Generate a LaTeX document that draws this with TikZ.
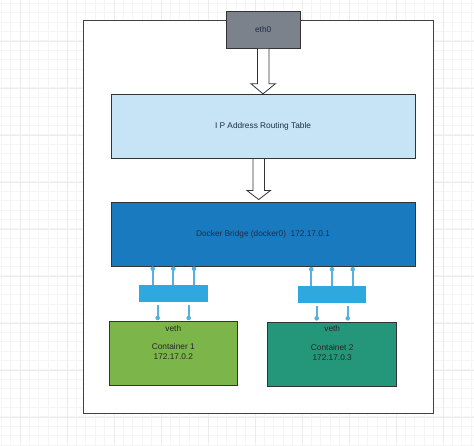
\documentclass[tikz,border=0pt]{standalone}
\usepackage{fontspec}
\setmainfont{Liberation Sans}
\usetikzlibrary{calc}
\definecolor{ethgray}{HTML}{7B828C}
\definecolor{rtblue}{HTML}{C6E4F6}
\definecolor{brblue}{HTML}{1A7ABF}
\definecolor{vethblue}{HTML}{2EA8DF}
\definecolor{linkblue}{HTML}{55B2E0}
\definecolor{c1green}{HTML}{7CB54A}
\definecolor{c2teal}{HTML}{249679}
\definecolor{txtnavy}{HTML}{1E2E44}
\definecolor{gridc}{HTML}{F5F5F5}
\definecolor{gridm}{HTML}{ECECEC}
\tikzset{
  boxstyle/.style={draw=black!80, line width=0.9pt, inner sep=0pt, font=\fontsize{8.3}{10}\selectfont},
  lbl/.style={font=\fontsize{8.3}{10}\selectfont, text=black!85},
  vethbar/.style={fill=vethblue, draw=none, inner sep=0pt},
  blockarrow/.style={draw=black!80, fill=white, line width=0.8pt, line join=miter},
  linkline/.style={draw=linkblue, line width=2pt},
  linkdot/.style={fill=linkblue, draw=none}
}
\begin{document}
\begin{tikzpicture}[x=1pt,y=-1pt]
\useasboundingbox (0,0) rectangle (474,445);
% background grid
\foreach \i in {0,...,50} {
  \draw[gridc, line width=0.4pt] ({1+\i*9.4},0) -- ({1+\i*9.4},445);
  \draw[gridc, line width=0.4pt] (0,{3+\i*9.4}) -- (474,{3+\i*9.4});
}
\foreach \i in {0,...,10} {
  \draw[gridm, line width=0.5pt] ({20+\i*47},0) -- ({20+\i*47},445);
  \draw[gridm, line width=0.5pt] (0,{41+\i*47}) -- (474,{41+\i*47});
}
% outer box
\node[draw=black!75, fill=white, line width=1pt, minimum width=350pt, minimum height=393.3pt, inner sep=0pt] (host) at (258.3,216.7) {};
% eth0
\node[boxstyle, fill=ethgray, text=txtnavy, minimum width=73.7pt, minimum height=36.6pt] (eth) at (263.2,30) {eth0};
% routing table
\node[boxstyle, fill=rtblue, text=txtnavy, minimum width=304pt, minimum height=64.4pt] (rt) at (263,126.5) {I P Address Routing Table};
% bridge
\node[boxstyle, fill=brblue, text=txtnavy, minimum width=304pt, minimum height=64pt] (br) at (263,234) {Docker Bridge (docker0)\ \ 172.17.0.1};
% veth bars
\node[vethbar, minimum width=68.7pt, minimum height=17.6pt] (v1) at (173.3,293.5) {};
\node[vethbar, minimum width=68.6pt, minimum height=17.6pt] (v2) at (332,294.5) {};
% containers
\node[boxstyle, fill=c1green, minimum width=128.7pt, minimum height=64pt] (c1) at (173.3,353.7) {};
\node[lbl, anchor=north] (c1veth) at ($(c1.north)+(0,0.5)$) {veth};
\node[lbl, align=center] (c1txt) at (173.3,352) {Container 1\\172.17.0.2};
\node[boxstyle, fill=c2teal, minimum width=129pt, minimum height=64.4pt] (c2) at (332.2,354.5) {};
\node[lbl, anchor=north] (c2veth) at ($(c2.north)+(0,0.5)$) {veth};
\node[lbl, align=center] (c2txt) at (332.2,353) {Containet 2\\172.17.0.3};
% block arrows
\draw[blockarrow] ($(eth.south)+(-5.7,0)$) -- ($(eth.south)+(-5.7,35)$) -- ($(eth.south)+(-12.2,35)$)
  -- (rt.north) -- ($(eth.south)+(12.2,35)$) -- ($(eth.south)+(5.7,35)$) -- ($(eth.south)+(5.7,0)$);
\coordinate (a2top) at ($(rt.south)+(-4.3,0)$);
\coordinate (a2tip) at ($(br.north)+(-4.3,-2)$);
\draw[blockarrow] ($(a2top)+(-5.7,0)$) -- ($(a2top)+(-5.7,31.3)$) -- ($(a2top)+(-11.8,31.3)$)
  -- (a2tip) -- ($(a2top)+(11.8,31.3)$) -- ($(a2top)+(5.7,31.3)$) -- ($(a2top)+(5.7,0)$);
% links bridge <-> veth
\foreach \dx/\n in {-20.6/a,0/b,20.7/c} {
  \coordinate (t1\n) at ($(v1.north)+(\dx,0)$);
  \coordinate (d1\n) at ($(v1.north)+(\dx,-15.8)$);
  \draw[linkline] (t1\n) -- (d1\n);
  \fill[linkdot] (d1\n) circle (2.3pt);
}
\foreach \dx/\n in {-20.7/a,0/b,20.7/c} {
  \coordinate (t2\n) at ($(v2.north)+(\dx,0)$);
  \coordinate (d2\n) at ($(v2.north)+(\dx,-16.3)$);
  \draw[linkline] (t2\n) -- (d2\n);
  \fill[linkdot] (d2\n) circle (2.3pt);
}
% links veth <-> containers
\foreach \x/\n in {157.7/a,188.7/b} {
  \coordinate (b1\n) at ($(v1.south)+(\x-173.3,2.5)$);
  \coordinate (e1\n) at ($(c1.north)+(\x-173.3,-3.3)$);
  \draw[linkline] (b1\n) -- (e1\n);
  \fill[linkdot] (e1\n) circle (2.3pt);
}
\foreach \x/\n in {316.7/a,347.7/b} {
  \coordinate (b2\n) at ($(v2.south)+(\x-332,2.5)$);
  \coordinate (e2\n) at ($(c2.north)+(\x-332.2,-3.5)$);
  \draw[linkline] (b2\n) -- (e2\n);
  \fill[linkdot] (e2\n) circle (2.3pt);
}
\end{tikzpicture}
\end{document}
